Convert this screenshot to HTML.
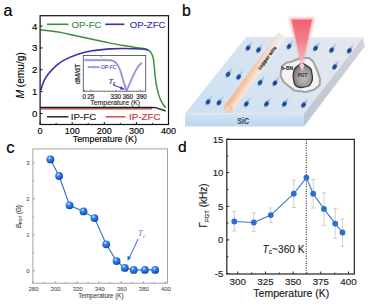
<!DOCTYPE html>
<html><head><meta charset="utf-8"><style>
html,body{margin:0;padding:0;background:#fff;}
svg{display:block;font-family:"Liberation Sans", sans-serif;}
</style></head><body>
<svg width="378" height="305" viewBox="0 0 378 305">
<text x="3.4" y="15.8" font-size="16" fill="#000" text-anchor="start" stroke="#000" stroke-width="0.20" >a</text>
<path d="M40.10,108.90 C50.08,108.90 81.35,108.90 100.00,108.90 C118.65,108.90 143.33,108.90 152.00,108.90" fill="none" stroke="#d83a3a" stroke-width="1.4"/>
<path d="M40.10,107.50 C50.08,107.50 81.68,107.50 100.00,107.50 C118.32,107.50 140.37,107.35 150.00,107.50 C159.63,107.65 155.20,107.82 157.80,108.40 C160.40,108.98 164.30,110.57 165.60,111.00" fill="none" stroke="#1a1a1a" stroke-width="1.4"/>
<path d="M40.50,29.80 C43.50,30.17 52.42,30.95 58.50,32.00 C64.58,33.05 69.25,34.43 77.00,36.10 C84.75,37.77 97.25,40.42 105.00,42.00 C112.75,43.58 117.33,44.55 123.50,45.60 C129.67,46.65 137.92,47.57 142.00,48.30 C146.08,49.03 146.42,49.13 148.00,50.00 C149.58,50.87 150.58,51.88 151.50,53.50 C152.42,55.12 152.88,55.80 153.50,59.70 C154.12,63.60 154.58,71.98 155.20,76.90 C155.82,81.82 156.37,85.52 157.20,89.20 C158.03,92.88 159.15,96.37 160.20,99.00 C161.25,101.63 162.57,103.53 163.50,105.00 C164.43,106.47 165.42,107.33 165.80,107.80" fill="none" stroke="#3a8f3a" stroke-width="1.5"/>
<path d="M40.80,90.20 C41.33,88.63 42.72,83.53 44.00,80.80 C45.28,78.07 46.50,76.30 48.50,73.80 C50.50,71.30 53.33,68.12 56.00,65.80 C58.67,63.48 60.83,61.83 64.50,59.90 C68.17,57.97 73.42,55.72 78.00,54.20 C82.58,52.68 86.67,51.68 92.00,50.80 C97.33,49.92 104.75,49.28 110.00,48.90 C115.25,48.52 118.17,48.48 123.50,48.50 C128.83,48.52 137.92,48.75 142.00,49.00 C146.08,49.25 147.00,49.83 148.00,50.00" fill="none" stroke="#3333b0" stroke-width="1.6"/>
<rect x="40.1" y="15.7" width="128.4" height="108.8" fill="none" stroke="#111" stroke-width="1.2"/>
<line x1="40.1" y1="113.50" x2="42.6" y2="113.50" stroke="#111" stroke-width="1"/>
<text x="37.3" y="116.9" font-size="9.6" fill="#000" text-anchor="end" stroke="#000" stroke-width="0.14" >0</text>
<line x1="40.1" y1="91.65" x2="42.6" y2="91.65" stroke="#111" stroke-width="1"/>
<text x="37.3" y="95.05000000000001" font-size="9.6" fill="#000" text-anchor="end" stroke="#000" stroke-width="0.14" >1</text>
<line x1="40.1" y1="69.80" x2="42.6" y2="69.80" stroke="#111" stroke-width="1"/>
<text x="37.3" y="73.2" font-size="9.6" fill="#000" text-anchor="end" stroke="#000" stroke-width="0.14" >2</text>
<line x1="40.1" y1="47.95" x2="42.6" y2="47.95" stroke="#111" stroke-width="1"/>
<text x="37.3" y="51.34999999999999" font-size="9.6" fill="#000" text-anchor="end" stroke="#000" stroke-width="0.14" >3</text>
<line x1="40.1" y1="26.10" x2="42.6" y2="26.10" stroke="#111" stroke-width="1"/>
<text x="37.3" y="29.499999999999993" font-size="9.6" fill="#000" text-anchor="end" stroke="#000" stroke-width="0.14" >4</text>
<line x1="40.10" y1="124.5" x2="40.10" y2="122.0" stroke="#111" stroke-width="1"/>
<text x="40.1" y="133.6" font-size="9.0" fill="#000" text-anchor="middle" stroke="#000" stroke-width="0.13" >0</text>
<line x1="56.15" y1="124.5" x2="56.15" y2="123.0" stroke="#111" stroke-width="1"/>
<line x1="72.20" y1="124.5" x2="72.20" y2="122.0" stroke="#111" stroke-width="1"/>
<text x="72.2" y="133.6" font-size="9.0" fill="#000" text-anchor="middle" stroke="#000" stroke-width="0.13" >100</text>
<line x1="88.25" y1="124.5" x2="88.25" y2="123.0" stroke="#111" stroke-width="1"/>
<line x1="104.30" y1="124.5" x2="104.30" y2="122.0" stroke="#111" stroke-width="1"/>
<text x="104.30000000000001" y="133.6" font-size="9.0" fill="#000" text-anchor="middle" stroke="#000" stroke-width="0.13" >200</text>
<line x1="120.35" y1="124.5" x2="120.35" y2="123.0" stroke="#111" stroke-width="1"/>
<line x1="136.40" y1="124.5" x2="136.40" y2="122.0" stroke="#111" stroke-width="1"/>
<text x="136.4" y="133.6" font-size="9.0" fill="#000" text-anchor="middle" stroke="#000" stroke-width="0.13" >300</text>
<line x1="152.45" y1="124.5" x2="152.45" y2="123.0" stroke="#111" stroke-width="1"/>
<line x1="168.50" y1="124.5" x2="168.50" y2="122.0" stroke="#111" stroke-width="1"/>
<text x="168.5" y="133.6" font-size="9.0" fill="#000" text-anchor="middle" stroke="#000" stroke-width="0.13" >400</text>
<text x="104.8" y="142.4" font-size="8.9" fill="#000" text-anchor="middle" stroke="#000" stroke-width="0.13" >Temperature (K)</text>
<text transform="translate(23.5,75.3) rotate(-90)" font-size="10.2" text-anchor="middle" fill="#000" stroke="#000" stroke-width="0.12"><tspan font-style="italic">M</tspan> (emu/g)</text>
<line x1="47" y1="24.3" x2="68.5" y2="24.3" stroke="#3a8f3a" stroke-width="1.6"/>
<text x="71.6" y="27.9" font-size="9.6" fill="#3a8f3a" text-anchor="start" stroke="#3a8f3a" stroke-width="0.14" >OP-FC</text>
<line x1="105.3" y1="24.3" x2="124.4" y2="24.3" stroke="#3333b0" stroke-width="1.6"/>
<text x="129.8" y="27.9" font-size="9.6" fill="#3333b0" text-anchor="start" stroke="#3333b0" stroke-width="0.14" >OP-ZFC</text>
<line x1="47" y1="116.8" x2="68.4" y2="116.8" stroke="#1a1a1a" stroke-width="1.4"/>
<text x="70.8" y="120.4" font-size="9.8" fill="#222" text-anchor="start" stroke="#222" stroke-width="0.15" >IP-FC</text>
<line x1="105.5" y1="116.8" x2="125.5" y2="116.8" stroke="#d83a3a" stroke-width="1.4"/>
<text x="129.0" y="120.4" font-size="9.8" fill="#cc3434" text-anchor="start" stroke="#cc3434" stroke-width="0.15" >IP-ZFC</text>
<rect x="83.3" y="55.5" width="62.39999999999999" height="35.7" fill="#fff" stroke="#555" stroke-width="0.9"/>
<path d="M84.50,60.10 C86.25,60.10 91.58,60.10 95.00,60.10 C98.42,60.10 102.33,60.07 105.00,60.10 C107.67,60.13 109.42,60.07 111.00,60.30 C112.58,60.53 113.42,60.80 114.50,61.50 C115.58,62.20 116.58,63.08 117.50,64.50 C118.42,65.92 119.25,68.08 120.00,70.00 C120.75,71.92 121.33,73.83 122.00,76.00 C122.67,78.17 123.25,80.67 124.00,83.00 C124.75,85.33 125.67,89.67 126.50,90.00 C127.33,90.33 128.08,86.92 129.00,85.00 C129.92,83.08 130.92,80.83 132.00,78.50 C133.08,76.17 134.42,73.08 135.50,71.00 C136.58,68.92 137.50,67.32 138.50,66.00 C139.50,64.68 141.00,63.58 141.50,63.10" fill="none" stroke="#7070c8" stroke-width="1.1"/>
<circle cx="84.50" cy="60.10" r="1.0" fill="none" stroke="#9a9ad8" stroke-width="0.5"/>
<circle cx="86.76" cy="60.10" r="1.0" fill="none" stroke="#9a9ad8" stroke-width="0.5"/>
<circle cx="89.01" cy="60.10" r="1.0" fill="none" stroke="#9a9ad8" stroke-width="0.5"/>
<circle cx="91.27" cy="60.10" r="1.0" fill="none" stroke="#9a9ad8" stroke-width="0.5"/>
<circle cx="93.53" cy="60.10" r="1.0" fill="none" stroke="#9a9ad8" stroke-width="0.5"/>
<circle cx="95.79" cy="60.10" r="1.0" fill="none" stroke="#9a9ad8" stroke-width="0.5"/>
<circle cx="98.04" cy="60.10" r="1.0" fill="none" stroke="#9a9ad8" stroke-width="0.5"/>
<circle cx="100.30" cy="60.10" r="1.0" fill="none" stroke="#9a9ad8" stroke-width="0.5"/>
<circle cx="102.56" cy="60.10" r="1.0" fill="none" stroke="#9a9ad8" stroke-width="0.5"/>
<circle cx="104.82" cy="60.10" r="1.0" fill="none" stroke="#9a9ad8" stroke-width="0.5"/>
<circle cx="107.07" cy="60.17" r="1.0" fill="none" stroke="#9a9ad8" stroke-width="0.5"/>
<circle cx="109.33" cy="60.24" r="1.0" fill="none" stroke="#9a9ad8" stroke-width="0.5"/>
<circle cx="111.55" cy="60.49" r="1.0" fill="none" stroke="#9a9ad8" stroke-width="0.5"/>
<circle cx="113.69" cy="61.22" r="1.0" fill="none" stroke="#9a9ad8" stroke-width="0.5"/>
<circle cx="115.49" cy="62.49" r="1.0" fill="none" stroke="#9a9ad8" stroke-width="0.5"/>
<circle cx="117.09" cy="64.09" r="1.0" fill="none" stroke="#9a9ad8" stroke-width="0.5"/>
<circle cx="118.19" cy="66.02" r="1.0" fill="none" stroke="#9a9ad8" stroke-width="0.5"/>
<circle cx="119.13" cy="68.08" r="1.0" fill="none" stroke="#9a9ad8" stroke-width="0.5"/>
<circle cx="120.05" cy="70.14" r="1.0" fill="none" stroke="#9a9ad8" stroke-width="0.5"/>
<circle cx="120.76" cy="72.28" r="1.0" fill="none" stroke="#9a9ad8" stroke-width="0.5"/>
<circle cx="121.47" cy="74.42" r="1.0" fill="none" stroke="#9a9ad8" stroke-width="0.5"/>
<circle cx="122.16" cy="76.57" r="1.0" fill="none" stroke="#9a9ad8" stroke-width="0.5"/>
<circle cx="122.78" cy="78.74" r="1.0" fill="none" stroke="#9a9ad8" stroke-width="0.5"/>
<circle cx="123.40" cy="80.91" r="1.0" fill="none" stroke="#9a9ad8" stroke-width="0.5"/>
<circle cx="124.03" cy="83.08" r="1.0" fill="none" stroke="#9a9ad8" stroke-width="0.5"/>
<circle cx="124.79" cy="85.21" r="1.0" fill="none" stroke="#9a9ad8" stroke-width="0.5"/>
<circle cx="125.55" cy="87.33" r="1.0" fill="none" stroke="#9a9ad8" stroke-width="0.5"/>
<circle cx="126.31" cy="89.46" r="1.0" fill="none" stroke="#9a9ad8" stroke-width="0.5"/>
<circle cx="127.25" cy="88.50" r="1.0" fill="none" stroke="#9a9ad8" stroke-width="0.5"/>
<circle cx="128.26" cy="86.48" r="1.0" fill="none" stroke="#9a9ad8" stroke-width="0.5"/>
<circle cx="129.25" cy="84.45" r="1.0" fill="none" stroke="#9a9ad8" stroke-width="0.5"/>
<circle cx="130.20" cy="82.40" r="1.0" fill="none" stroke="#9a9ad8" stroke-width="0.5"/>
<circle cx="131.15" cy="80.35" r="1.0" fill="none" stroke="#9a9ad8" stroke-width="0.5"/>
<circle cx="132.09" cy="78.30" r="1.0" fill="none" stroke="#9a9ad8" stroke-width="0.5"/>
<circle cx="133.05" cy="76.25" r="1.0" fill="none" stroke="#9a9ad8" stroke-width="0.5"/>
<circle cx="134.00" cy="74.21" r="1.0" fill="none" stroke="#9a9ad8" stroke-width="0.5"/>
<circle cx="134.96" cy="72.16" r="1.0" fill="none" stroke="#9a9ad8" stroke-width="0.5"/>
<circle cx="136.00" cy="70.16" r="1.0" fill="none" stroke="#9a9ad8" stroke-width="0.5"/>
<circle cx="137.16" cy="68.23" r="1.0" fill="none" stroke="#9a9ad8" stroke-width="0.5"/>
<circle cx="138.32" cy="66.29" r="1.0" fill="none" stroke="#9a9ad8" stroke-width="0.5"/>
<circle cx="139.88" cy="64.67" r="1.0" fill="none" stroke="#9a9ad8" stroke-width="0.5"/>
<circle cx="141.50" cy="63.10" r="1.0" fill="none" stroke="#9a9ad8" stroke-width="0.5"/>
<line x1="87.7" y1="67.1" x2="99.8" y2="67.1" stroke="#5a5ac8" stroke-width="1.1"/>
<circle cx="93.7" cy="67.1" r="1.1" fill="#fff" stroke="#5a5ac8" stroke-width="0.6"/>
<text x="101" y="69.1" font-size="5.6" fill="#4a4ab8" stroke="#4a4ab8" stroke-width="0.15" textLength="15.3" lengthAdjust="spacingAndGlyphs">OP-FC</text>
<text x="108.4" y="83.8" font-size="7.5" fill="#3a3aa8" stroke="#3a3aa8" stroke-width="0.2" font-style="italic">T<tspan font-size="4.5" dy="1.5">c</tspan></text>
<line x1="113.2" y1="85" x2="122.5" y2="88.5" stroke="#3a3aa8" stroke-width="1"/>
<path d="M125.4,89.6 L120.9,86.3 L120.1,89.4 Z" fill="#3a3aa8"/>
<text x="82.45" y="99.1" font-size="6.4" fill="#222" stroke="#222" stroke-width="0.18" textLength="3.50" lengthAdjust="spacingAndGlyphs">0</text>
<text x="87.30" y="99.1" font-size="6.4" fill="#222" stroke="#222" stroke-width="0.18" textLength="7.00" lengthAdjust="spacingAndGlyphs">25</text>
<text x="110.55" y="99.1" font-size="6.4" fill="#222" stroke="#222" stroke-width="0.18" textLength="10.50" lengthAdjust="spacingAndGlyphs">330</text>
<text x="122.55" y="99.1" font-size="6.4" fill="#222" stroke="#222" stroke-width="0.18" textLength="10.50" lengthAdjust="spacingAndGlyphs">360</text>
<text x="136.15" y="99.1" font-size="6.4" fill="#222" stroke="#222" stroke-width="0.18" textLength="10.50" lengthAdjust="spacingAndGlyphs">390</text>
<line x1="84.5" y1="91.2" x2="84.5" y2="89.7" stroke="#555" stroke-width="0.6"/>
<line x1="90.6" y1="91.2" x2="90.6" y2="89.7" stroke="#555" stroke-width="0.6"/>
<line x1="115.8" y1="91.2" x2="115.8" y2="89.7" stroke="#555" stroke-width="0.6"/>
<line x1="127.1" y1="91.2" x2="127.1" y2="89.7" stroke="#555" stroke-width="0.6"/>
<line x1="140.6" y1="91.2" x2="140.6" y2="89.7" stroke="#555" stroke-width="0.6"/>
<line x1="101" y1="55.5" x2="101" y2="57.0" stroke="#555" stroke-width="0.6"/>
<text x="115.2" y="105.2" font-size="6.9" fill="#222" text-anchor="middle" stroke="#222" stroke-width="0.10" >Temperature (K)</text>
<text transform="translate(79.9,73.8) rotate(-90)" font-size="7.2" text-anchor="middle" fill="#222" stroke="#222" stroke-width="0.2">dM/dT</text>
<text x="182.0" y="16.4" font-size="15.8" fill="#000" text-anchor="start" stroke="#000" stroke-width="0.20" >b</text>
<defs><linearGradient id="topface" gradientUnits="userSpaceOnUse" x1="340" y1="38" x2="205" y2="114"><stop offset="0" stop-color="#e4e8ee"/><stop offset="0.5" stop-color="#d8e4f0"/><stop offset="1" stop-color="#cde1f3"/></linearGradient><linearGradient id="front" gradientUnits="userSpaceOnUse" x1="0" y1="113.5" x2="0" y2="126.4"><stop offset="0" stop-color="#d6e6f4"/><stop offset="0.35" stop-color="#c8def2"/><stop offset="0.9" stop-color="#bed8f0"/><stop offset="1" stop-color="#c4d8ea"/></linearGradient><linearGradient id="side" gradientUnits="userSpaceOnUse" x1="300" y1="0" x2="364" y2="0"><stop offset="0" stop-color="#bcc5d2"/><stop offset="1" stop-color="#d0d3da"/></linearGradient><linearGradient id="wire" x1="0" y1="0" x2="1" y2="0"><stop offset="0" stop-color="#f0a878"/><stop offset="0.4" stop-color="#f6c4a2"/><stop offset="1" stop-color="#fce8da"/></linearGradient><linearGradient id="wirefade" x1="0" y1="1" x2="0" y2="0"><stop offset="0" stop-color="#fff" stop-opacity="0"/><stop offset="0.35" stop-color="#f6f4f4" stop-opacity="0.2"/><stop offset="1" stop-color="#eef0f4" stop-opacity="0.85"/></linearGradient><linearGradient id="beam" gradientUnits="userSpaceOnUse" x1="0" y1="19" x2="0" y2="67"><stop offset="0" stop-color="#f2606e"/><stop offset="0.45" stop-color="#f37e8a"/><stop offset="0.8" stop-color="#f5aab3"/><stop offset="1" stop-color="#f8dadd"/></linearGradient><radialGradient id="pgt" cx="0.55" cy="0.6" r="0.62"><stop offset="0" stop-color="#c2bebe"/><stop offset="0.55" stop-color="#a09c9c"/><stop offset="1" stop-color="#646262"/></radialGradient><radialGradient id="ball" cx="0.38" cy="0.32" r="0.68"><stop offset="0" stop-color="#e4eeff"/><stop offset="0.3" stop-color="#3f88f0"/><stop offset="0.8" stop-color="#1a5cc8"/><stop offset="1" stop-color="#1446a0"/></radialGradient><filter id="blur1" x="-50%" y="-50%" width="200%" height="200%"><feGaussianBlur stdDeviation="1.3"/></filter><filter id="blur05" x="-50%" y="-50%" width="200%" height="200%"><feGaussianBlur stdDeviation="0.6"/></filter><filter id="blur03" x="-50%" y="-50%" width="200%" height="200%"><feGaussianBlur stdDeviation="0.35"/></filter></defs>
<g filter="url(#blur03)">
<polygon points="246,36.9 363,37.4 304,113.8 185,113.5" fill="url(#topface)"/>
<polygon points="185,113.5 304,113.8 304,126.4 185,126.4" fill="url(#front)"/>
<polygon points="363,37.4 364.8,46.5 304,126.4 304,113.8" fill="url(#side)"/>
</g>
<g transform="translate(248,48) rotate(33)"><g filter="url(#blur05)"><ellipse cx="0" cy="0" rx="3.0" ry="3.6" fill="#eef4fb" opacity="0.6"/><polygon points="-1.7,-1.5 1.7,-1.5 0,-8.2" fill="#9ec0ea"/><polygon points="-1.2,1.5 1.2,1.5 0,5.2" fill="#a8c8ee"/></g><ellipse cx="0" cy="0" rx="2.1" ry="2.8" fill="#1c4a92" filter="url(#blur03)"/></g>
<g transform="translate(258.5,50) rotate(33)"><g filter="url(#blur05)"><ellipse cx="0" cy="0" rx="3.0" ry="3.6" fill="#eef4fb" opacity="0.6"/><polygon points="-1.7,-1.5 1.7,-1.5 0,-8.2" fill="#9ec0ea"/><polygon points="-1.2,1.5 1.2,1.5 0,5.2" fill="#a8c8ee"/></g><ellipse cx="0" cy="0" rx="2.1" ry="2.8" fill="#1c4a92" filter="url(#blur03)"/></g>
<g transform="translate(289,46.5) rotate(33)"><g filter="url(#blur05)"><ellipse cx="0" cy="0" rx="3.0" ry="3.6" fill="#eef4fb" opacity="0.6"/><polygon points="-1.7,-1.5 1.7,-1.5 0,-8.2" fill="#9ec0ea"/><polygon points="-1.2,1.5 1.2,1.5 0,5.2" fill="#a8c8ee"/></g><ellipse cx="0" cy="0" rx="2.1" ry="2.8" fill="#1c4a92" filter="url(#blur03)"/></g>
<g transform="translate(315.5,48.3) rotate(33)"><g filter="url(#blur05)"><ellipse cx="0" cy="0" rx="3.0" ry="3.6" fill="#eef4fb" opacity="0.6"/><polygon points="-1.7,-1.5 1.7,-1.5 0,-8.2" fill="#9ec0ea"/><polygon points="-1.2,1.5 1.2,1.5 0,5.2" fill="#a8c8ee"/></g><ellipse cx="0" cy="0" rx="2.1" ry="2.8" fill="#1c4a92" filter="url(#blur03)"/></g>
<g transform="translate(331.6,50.1) rotate(33)"><g filter="url(#blur05)"><ellipse cx="0" cy="0" rx="3.0" ry="3.6" fill="#eef4fb" opacity="0.6"/><polygon points="-1.7,-1.5 1.7,-1.5 0,-8.2" fill="#9ec0ea"/><polygon points="-1.2,1.5 1.2,1.5 0,5.2" fill="#a8c8ee"/></g><ellipse cx="0" cy="0" rx="2.1" ry="2.8" fill="#1c4a92" filter="url(#blur03)"/></g>
<g transform="translate(349.3,50.7) rotate(33)"><g filter="url(#blur05)"><ellipse cx="0" cy="0" rx="3.0" ry="3.6" fill="#eef4fb" opacity="0.6"/><polygon points="-1.7,-1.5 1.7,-1.5 0,-8.2" fill="#9ec0ea"/><polygon points="-1.2,1.5 1.2,1.5 0,5.2" fill="#a8c8ee"/></g><ellipse cx="0" cy="0" rx="2.1" ry="2.8" fill="#1c4a92" filter="url(#blur03)"/></g>
<g transform="translate(228,74.4) rotate(33)"><g filter="url(#blur05)"><ellipse cx="0" cy="0" rx="3.0" ry="3.6" fill="#eef4fb" opacity="0.6"/><polygon points="-1.7,-1.5 1.7,-1.5 0,-8.2" fill="#9ec0ea"/><polygon points="-1.2,1.5 1.2,1.5 0,5.2" fill="#a8c8ee"/></g><ellipse cx="0" cy="0" rx="2.1" ry="2.8" fill="#1c4a92" filter="url(#blur03)"/></g>
<g transform="translate(238.6,77) rotate(33)"><g filter="url(#blur05)"><ellipse cx="0" cy="0" rx="3.0" ry="3.6" fill="#eef4fb" opacity="0.6"/><polygon points="-1.7,-1.5 1.7,-1.5 0,-8.2" fill="#9ec0ea"/><polygon points="-1.2,1.5 1.2,1.5 0,5.2" fill="#a8c8ee"/></g><ellipse cx="0" cy="0" rx="2.1" ry="2.8" fill="#1c4a92" filter="url(#blur03)"/></g>
<g transform="translate(260.1,82.7) rotate(33)"><g filter="url(#blur05)"><ellipse cx="0" cy="0" rx="3.0" ry="3.6" fill="#eef4fb" opacity="0.6"/><polygon points="-1.7,-1.5 1.7,-1.5 0,-8.2" fill="#9ec0ea"/><polygon points="-1.2,1.5 1.2,1.5 0,5.2" fill="#a8c8ee"/></g><ellipse cx="0" cy="0" rx="2.1" ry="2.8" fill="#1c4a92" filter="url(#blur03)"/></g>
<g transform="translate(274.9,83.1) rotate(33)"><g filter="url(#blur05)"><ellipse cx="0" cy="0" rx="3.0" ry="3.6" fill="#eef4fb" opacity="0.6"/><polygon points="-1.7,-1.5 1.7,-1.5 0,-8.2" fill="#9ec0ea"/><polygon points="-1.2,1.5 1.2,1.5 0,5.2" fill="#a8c8ee"/></g><ellipse cx="0" cy="0" rx="2.1" ry="2.8" fill="#1c4a92" filter="url(#blur03)"/></g>
<g transform="translate(334.6,66.9) rotate(33)"><g filter="url(#blur05)"><ellipse cx="0" cy="0" rx="3.0" ry="3.6" fill="#eef4fb" opacity="0.6"/><polygon points="-1.7,-1.5 1.7,-1.5 0,-8.2" fill="#9ec0ea"/><polygon points="-1.2,1.5 1.2,1.5 0,5.2" fill="#a8c8ee"/></g><ellipse cx="0" cy="0" rx="2.1" ry="2.8" fill="#1c4a92" filter="url(#blur03)"/></g>
<g transform="translate(208,102) rotate(33)"><g filter="url(#blur05)"><ellipse cx="0" cy="0" rx="3.0" ry="3.6" fill="#eef4fb" opacity="0.6"/><polygon points="-1.7,-1.5 1.7,-1.5 0,-8.2" fill="#9ec0ea"/><polygon points="-1.2,1.5 1.2,1.5 0,5.2" fill="#a8c8ee"/></g><ellipse cx="0" cy="0" rx="2.1" ry="2.8" fill="#1c4a92" filter="url(#blur03)"/></g>
<g transform="translate(219,102.7) rotate(33)"><g filter="url(#blur05)"><ellipse cx="0" cy="0" rx="3.0" ry="3.6" fill="#eef4fb" opacity="0.6"/><polygon points="-1.7,-1.5 1.7,-1.5 0,-8.2" fill="#9ec0ea"/><polygon points="-1.2,1.5 1.2,1.5 0,5.2" fill="#a8c8ee"/></g><ellipse cx="0" cy="0" rx="2.1" ry="2.8" fill="#1c4a92" filter="url(#blur03)"/></g>
<g transform="translate(246.3,104) rotate(33)"><g filter="url(#blur05)"><ellipse cx="0" cy="0" rx="3.0" ry="3.6" fill="#eef4fb" opacity="0.6"/><polygon points="-1.7,-1.5 1.7,-1.5 0,-8.2" fill="#9ec0ea"/><polygon points="-1.2,1.5 1.2,1.5 0,5.2" fill="#a8c8ee"/></g><ellipse cx="0" cy="0" rx="2.1" ry="2.8" fill="#1c4a92" filter="url(#blur03)"/></g>
<g transform="translate(266.5,104) rotate(33)"><g filter="url(#blur05)"><ellipse cx="0" cy="0" rx="3.0" ry="3.6" fill="#eef4fb" opacity="0.6"/><polygon points="-1.7,-1.5 1.7,-1.5 0,-8.2" fill="#9ec0ea"/><polygon points="-1.2,1.5 1.2,1.5 0,5.2" fill="#a8c8ee"/></g><ellipse cx="0" cy="0" rx="2.1" ry="2.8" fill="#1c4a92" filter="url(#blur03)"/></g>
<g transform="translate(284.4,104) rotate(33)"><g filter="url(#blur05)"><ellipse cx="0" cy="0" rx="3.0" ry="3.6" fill="#eef4fb" opacity="0.6"/><polygon points="-1.7,-1.5 1.7,-1.5 0,-8.2" fill="#9ec0ea"/><polygon points="-1.2,1.5 1.2,1.5 0,5.2" fill="#a8c8ee"/></g><ellipse cx="0" cy="0" rx="2.1" ry="2.8" fill="#1c4a92" filter="url(#blur03)"/></g>
<g transform="translate(303.5,105) rotate(33)"><g filter="url(#blur05)"><ellipse cx="0" cy="0" rx="3.0" ry="3.6" fill="#eef4fb" opacity="0.6"/><polygon points="-1.7,-1.5 1.7,-1.5 0,-8.2" fill="#9ec0ea"/><polygon points="-1.2,1.5 1.2,1.5 0,5.2" fill="#a8c8ee"/></g><ellipse cx="0" cy="0" rx="2.1" ry="2.8" fill="#1c4a92" filter="url(#blur03)"/></g>
<g transform="translate(228.3,108.6) rotate(36.4)" filter="url(#blur03)"><rect x="-4.6" y="-91" width="9.2" height="91" fill="url(#wire)"/><rect x="-4.6" y="-91" width="9.2" height="91" fill="url(#wirefade)"/><ellipse cx="0" cy="0" rx="4.6" ry="3.3" fill="#f3b58c"/><ellipse cx="0.3" cy="0.3" rx="3.3" ry="2.4" fill="#f9d2b8"/></g>
<text transform="translate(268.6,59.0) rotate(-53.6)" font-size="5.2" font-weight="bold" fill="#222" stroke="#222" stroke-width="0.15" text-anchor="middle" textLength="28" lengthAdjust="spacingAndGlyphs">copper wire</text>
<path d="M280.7,73 L282.3,66 L286.4,62.8 L291.3,61.8 L298.7,58.8 L305,58 L309.3,58.0 L313.4,61.8 L315.5,66.5 L317.5,71.3 L320,78.7 L319.6,85.2 L314.3,89.6 L306,92.0 L300,91.2 L294.6,90.6 L288,85.6 L283.9,82.2 L280.7,76.2 Z" fill="#f3f3f3" stroke="#a2a2a2" stroke-width="2.0" stroke-linejoin="round" filter="url(#blur05)"/>
<path d="M280.7,73 L282.3,66 L286.4,62.8 L291.3,61.8 L298.7,58.8 L305,58 L309.3,58.0 L313.4,61.8 L315.5,66.5 L317.5,71.3 L320,78.7 L319.6,85.2 L314.3,89.6 L306,92.0 L300,91.2 L294.6,90.6 L288,85.6 L283.9,82.2 L280.7,76.2 Z" fill="#f6f6f6" stroke="none" transform="translate(0.4,0.2)" opacity="0.0"/>
<path d="M302,62.8 L309.6,67.6 Q311,68.6 311.4,70.2 L312.4,76.5 Q312.8,79.5 311.6,82 L310.2,84.5 Q309.2,86 307.2,86.5 L302.5,87.4 Q299.5,87.8 297.2,86.6 Q295,85.5 294.2,83 L293.3,78.5 Q293,75.5 293.4,73 L294.2,69.8 Q294.6,68.3 296,67.2 Z" fill="url(#pgt)" stroke="#383636" stroke-width="1.25" stroke-linejoin="round"/>
<ellipse cx="302.2" cy="66.8" rx="1.4" ry="3.4" fill="#f6e0e3" opacity="0.8" filter="url(#blur05)"/>
<text x="302.6" y="77.0" font-size="4.6" fill="#333" text-anchor="middle" stroke="#333" stroke-width="0.07" font-weight="bold">PGT</text>
<text x="287.2" y="70.0" font-size="5.0" fill="#222" text-anchor="middle" stroke="#222" stroke-width="0.07" font-weight="bold">h-BN</text>
<polygon points="288.5,17.5 315,17.5 301.8,68" fill="#f7a0aa" opacity="0.7" filter="url(#blur1)"/>
<polygon points="291.5,19.5 312.1,19.5 301.8,66.6" fill="url(#beam)" filter="url(#blur03)"/>
<ellipse cx="301.8" cy="65.5" rx="2.5" ry="2" fill="#f9d0d6" opacity="0.8" filter="url(#blur05)"/>
<text x="237.3" y="123.8" font-size="9.5" font-weight="bold" fill="#3a3a44" textLength="12" lengthAdjust="spacingAndGlyphs">SiC</text>
<text x="6.2" y="153.4" font-size="16.5" fill="#000" text-anchor="start" stroke="#000" stroke-width="0.20" >c</text>
<rect x="32.9" y="148.9" width="134.6" height="134.29999999999998" fill="none" stroke="#a4a4a4" stroke-width="1.0"/>
<line x1="32.9" y1="270.80" x2="34.9" y2="270.80" stroke="#888" stroke-width="0.8"/>
<text x="29.6" y="272.90000000000003" font-size="6.0" fill="#555" text-anchor="end" stroke="#555" stroke-width="0.09" >0</text>
<line x1="32.9" y1="234.80" x2="34.9" y2="234.80" stroke="#888" stroke-width="0.8"/>
<text x="29.6" y="236.9" font-size="6.0" fill="#555" text-anchor="end" stroke="#555" stroke-width="0.09" >1</text>
<line x1="32.9" y1="198.80" x2="34.9" y2="198.80" stroke="#888" stroke-width="0.8"/>
<text x="29.6" y="200.9" font-size="6.0" fill="#555" text-anchor="end" stroke="#555" stroke-width="0.09" >2</text>
<line x1="32.9" y1="162.80" x2="34.9" y2="162.80" stroke="#888" stroke-width="0.8"/>
<text x="29.6" y="164.9" font-size="6.0" fill="#555" text-anchor="end" stroke="#555" stroke-width="0.09" >3</text>
<line x1="32.9" y1="252.80" x2="34.1" y2="252.80" stroke="#888" stroke-width="0.8"/>
<line x1="32.9" y1="216.80" x2="34.1" y2="216.80" stroke="#888" stroke-width="0.8"/>
<line x1="32.9" y1="180.80" x2="34.1" y2="180.80" stroke="#888" stroke-width="0.8"/>
<line x1="32.90" y1="283.2" x2="32.90" y2="281.2" stroke="#888" stroke-width="0.8"/>
<text x="33.5" y="291.0" font-size="6.0" fill="#555" text-anchor="middle" stroke="#555" stroke-width="0.09" >280</text>
<line x1="43.93" y1="283.2" x2="43.93" y2="282.0" stroke="#888" stroke-width="0.8"/>
<line x1="54.97" y1="283.2" x2="54.97" y2="281.2" stroke="#888" stroke-width="0.8"/>
<text x="55.56666666666667" y="291.0" font-size="6.0" fill="#555" text-anchor="middle" stroke="#555" stroke-width="0.09" >300</text>
<line x1="66.00" y1="283.2" x2="66.00" y2="282.0" stroke="#888" stroke-width="0.8"/>
<line x1="77.03" y1="283.2" x2="77.03" y2="281.2" stroke="#888" stroke-width="0.8"/>
<text x="77.63333333333333" y="291.0" font-size="6.0" fill="#555" text-anchor="middle" stroke="#555" stroke-width="0.09" >320</text>
<line x1="88.07" y1="283.2" x2="88.07" y2="282.0" stroke="#888" stroke-width="0.8"/>
<line x1="99.10" y1="283.2" x2="99.10" y2="281.2" stroke="#888" stroke-width="0.8"/>
<text x="99.69999999999999" y="291.0" font-size="6.0" fill="#555" text-anchor="middle" stroke="#555" stroke-width="0.09" >340</text>
<line x1="110.13" y1="283.2" x2="110.13" y2="282.0" stroke="#888" stroke-width="0.8"/>
<line x1="121.17" y1="283.2" x2="121.17" y2="281.2" stroke="#888" stroke-width="0.8"/>
<text x="121.76666666666665" y="291.0" font-size="6.0" fill="#555" text-anchor="middle" stroke="#555" stroke-width="0.09" >360</text>
<line x1="132.20" y1="283.2" x2="132.20" y2="282.0" stroke="#888" stroke-width="0.8"/>
<line x1="143.23" y1="283.2" x2="143.23" y2="281.2" stroke="#888" stroke-width="0.8"/>
<text x="143.83333333333331" y="291.0" font-size="6.0" fill="#555" text-anchor="middle" stroke="#555" stroke-width="0.09" >380</text>
<line x1="154.27" y1="283.2" x2="154.27" y2="282.0" stroke="#888" stroke-width="0.8"/>
<line x1="165.30" y1="283.2" x2="165.30" y2="281.2" stroke="#888" stroke-width="0.8"/>
<text x="165.9" y="291.0" font-size="6.0" fill="#555" text-anchor="middle" stroke="#555" stroke-width="0.09" >400</text>
<text x="100.9" y="297.8" font-size="6.3" fill="#444" text-anchor="middle" stroke="#444" stroke-width="0.09" >Temperature (K)</text>
<text transform="translate(20.8,216.7) rotate(-90)" font-size="6.3" text-anchor="middle" fill="#555" stroke="#555" stroke-width="0.18"><tspan font-style="italic">B</tspan><tspan font-size="4" dy="1.2">PGT</tspan><tspan dy="-1.2"> (G)</tspan></text>
<path d="M50.40,159.40 L59.10,176.00 L69.60,205.30 L83.50,211.40 L94.50,218.10 L106.20,244.30 L116.60,261.10 L124.80,267.90 L133.70,269.90 L144.90,269.90 L155.20,269.90" fill="none" stroke="#2a6fd0" stroke-width="1.1"/>
<circle cx="50.4" cy="159.4" r="3.9" fill="url(#ball)"/>
<circle cx="59.1" cy="176" r="3.9" fill="url(#ball)"/>
<circle cx="69.6" cy="205.3" r="3.9" fill="url(#ball)"/>
<circle cx="83.5" cy="211.4" r="3.9" fill="url(#ball)"/>
<circle cx="94.5" cy="218.1" r="3.9" fill="url(#ball)"/>
<circle cx="106.2" cy="244.3" r="3.9" fill="url(#ball)"/>
<circle cx="116.6" cy="261.1" r="3.9" fill="url(#ball)"/>
<circle cx="124.8" cy="267.9" r="3.9" fill="url(#ball)"/>
<circle cx="133.7" cy="269.9" r="3.9" fill="url(#ball)"/>
<circle cx="144.9" cy="269.9" r="3.9" fill="url(#ball)"/>
<circle cx="155.2" cy="269.9" r="3.9" fill="url(#ball)"/>
<text x="137.8" y="236.3" font-size="9.2" fill="#6a8ccc" font-family="Liberation Serif" font-style="italic">T<tspan font-size="5.5" dy="1.5">c</tspan></text>
<line x1="138.1" y1="239" x2="129.5" y2="257.5" stroke="#2a6fd0" stroke-width="1"/>
<path d="M127.6,261 L127.5,255.8 L131.2,257.5 Z" fill="#2a6fd0"/>
<text x="178.0" y="151.8" font-size="15.5" fill="#000" text-anchor="start" stroke="#000" stroke-width="0.20" >d</text>
<rect x="226.8" y="139.4" width="127.5" height="134.6" fill="none" stroke="#222" stroke-width="1.2"/>
<line x1="226.8" y1="273.50" x2="229.3" y2="273.50" stroke="#222" stroke-width="1"/>
<text x="223.3" y="276.9" font-size="9.6" fill="#222" text-anchor="end" stroke="#222" stroke-width="0.14" >-5</text>
<line x1="226.8" y1="239.90" x2="229.3" y2="239.90" stroke="#222" stroke-width="1"/>
<text x="223.3" y="243.3" font-size="9.6" fill="#222" text-anchor="end" stroke="#222" stroke-width="0.14" >0</text>
<line x1="226.8" y1="206.30" x2="229.3" y2="206.30" stroke="#222" stroke-width="1"/>
<text x="223.3" y="209.70000000000002" font-size="9.6" fill="#222" text-anchor="end" stroke="#222" stroke-width="0.14" >5</text>
<line x1="226.8" y1="172.70" x2="229.3" y2="172.70" stroke="#222" stroke-width="1"/>
<text x="223.3" y="176.1" font-size="9.6" fill="#222" text-anchor="end" stroke="#222" stroke-width="0.14" >10</text>
<line x1="226.8" y1="139.10" x2="229.3" y2="139.10" stroke="#222" stroke-width="1"/>
<text x="223.3" y="142.50000000000003" font-size="9.6" fill="#222" text-anchor="end" stroke="#222" stroke-width="0.14" >15</text>
<line x1="226.8" y1="256.70" x2="228.3" y2="256.70" stroke="#222" stroke-width="1"/>
<line x1="226.8" y1="223.10" x2="228.3" y2="223.10" stroke="#222" stroke-width="1"/>
<line x1="226.8" y1="189.50" x2="228.3" y2="189.50" stroke="#222" stroke-width="1"/>
<line x1="226.8" y1="155.90" x2="228.3" y2="155.90" stroke="#222" stroke-width="1"/>
<line x1="237.80" y1="274.0" x2="237.80" y2="271.5" stroke="#222" stroke-width="1"/>
<text x="237.8" y="284.5" font-size="9.8" fill="#222" text-anchor="middle" stroke="#222" stroke-width="0.15" >300</text>
<line x1="265.48" y1="274.0" x2="265.48" y2="271.5" stroke="#222" stroke-width="1"/>
<text x="265.475" y="284.5" font-size="9.8" fill="#222" text-anchor="middle" stroke="#222" stroke-width="0.15" >325</text>
<line x1="293.15" y1="274.0" x2="293.15" y2="271.5" stroke="#222" stroke-width="1"/>
<text x="293.15" y="284.5" font-size="9.8" fill="#222" text-anchor="middle" stroke="#222" stroke-width="0.15" >350</text>
<line x1="320.83" y1="274.0" x2="320.83" y2="271.5" stroke="#222" stroke-width="1"/>
<text x="320.82500000000005" y="284.5" font-size="9.8" fill="#222" text-anchor="middle" stroke="#222" stroke-width="0.15" >375</text>
<line x1="348.50" y1="274.0" x2="348.50" y2="271.5" stroke="#222" stroke-width="1"/>
<text x="348.5" y="284.5" font-size="9.8" fill="#222" text-anchor="middle" stroke="#222" stroke-width="0.15" >400</text>
<line x1="251.64" y1="274.0" x2="251.64" y2="272.5" stroke="#222" stroke-width="1"/>
<line x1="279.31" y1="274.0" x2="279.31" y2="272.5" stroke="#222" stroke-width="1"/>
<line x1="306.99" y1="274.0" x2="306.99" y2="272.5" stroke="#222" stroke-width="1"/>
<line x1="334.66" y1="274.0" x2="334.66" y2="272.5" stroke="#222" stroke-width="1"/>
<text x="291.3" y="296.5" font-size="10.5" fill="#222" text-anchor="middle" stroke="#222" stroke-width="0.16" >Temperature (K)</text>
<text transform="translate(206.5,205.5) rotate(-90)" font-size="10" text-anchor="middle" fill="#222" stroke="#222" stroke-width="0.15">Γ<tspan font-size="6" dy="2">FGT</tspan><tspan dy="-2"> (kHz)</tspan></text>
<line x1="306.3" y1="140.4" x2="306.3" y2="274.0" stroke="#3a3a3a" stroke-width="1.15" stroke-dasharray="1.1,1.3"/>
<line x1="234.3" y1="211.5" x2="234.3" y2="231" stroke="#c8c8c8" stroke-width="0.9"/>
<line x1="232.20000000000002" y1="211.5" x2="236.4" y2="211.5" stroke="#c8c8c8" stroke-width="0.9"/>
<line x1="232.20000000000002" y1="231" x2="236.4" y2="231" stroke="#c8c8c8" stroke-width="0.9"/>
<line x1="253.8" y1="213" x2="253.8" y2="231.4" stroke="#c8c8c8" stroke-width="0.9"/>
<line x1="251.70000000000002" y1="213" x2="255.9" y2="213" stroke="#c8c8c8" stroke-width="0.9"/>
<line x1="251.70000000000002" y1="231.4" x2="255.9" y2="231.4" stroke="#c8c8c8" stroke-width="0.9"/>
<line x1="270.8" y1="208.1" x2="270.8" y2="222.5" stroke="#c8c8c8" stroke-width="0.9"/>
<line x1="268.7" y1="208.1" x2="272.90000000000003" y2="208.1" stroke="#c8c8c8" stroke-width="0.9"/>
<line x1="268.7" y1="222.5" x2="272.90000000000003" y2="222.5" stroke="#c8c8c8" stroke-width="0.9"/>
<line x1="293.8" y1="180.2" x2="293.8" y2="207.5" stroke="#c8c8c8" stroke-width="0.9"/>
<line x1="291.7" y1="180.2" x2="295.90000000000003" y2="180.2" stroke="#c8c8c8" stroke-width="0.9"/>
<line x1="291.7" y1="207.5" x2="295.90000000000003" y2="207.5" stroke="#c8c8c8" stroke-width="0.9"/>
<line x1="313.2" y1="179.5" x2="313.2" y2="208.1" stroke="#c8c8c8" stroke-width="0.9"/>
<line x1="311.09999999999997" y1="179.5" x2="315.3" y2="179.5" stroke="#c8c8c8" stroke-width="0.9"/>
<line x1="311.09999999999997" y1="208.1" x2="315.3" y2="208.1" stroke="#c8c8c8" stroke-width="0.9"/>
<line x1="324" y1="192.8" x2="324" y2="225.3" stroke="#c8c8c8" stroke-width="0.9"/>
<line x1="321.9" y1="192.8" x2="326.1" y2="192.8" stroke="#c8c8c8" stroke-width="0.9"/>
<line x1="321.9" y1="225.3" x2="326.1" y2="225.3" stroke="#c8c8c8" stroke-width="0.9"/>
<line x1="335.2" y1="208.3" x2="335.2" y2="238.4" stroke="#c8c8c8" stroke-width="0.9"/>
<line x1="333.09999999999997" y1="208.3" x2="337.3" y2="208.3" stroke="#c8c8c8" stroke-width="0.9"/>
<line x1="333.09999999999997" y1="238.4" x2="337.3" y2="238.4" stroke="#c8c8c8" stroke-width="0.9"/>
<line x1="342.5" y1="219.1" x2="342.5" y2="246.3" stroke="#c8c8c8" stroke-width="0.9"/>
<line x1="340.4" y1="219.1" x2="344.6" y2="219.1" stroke="#c8c8c8" stroke-width="0.9"/>
<line x1="340.4" y1="246.3" x2="344.6" y2="246.3" stroke="#c8c8c8" stroke-width="0.9"/>
<path d="M234.30,221.50 L253.80,222.50 L270.80,215.10 L293.80,193.70 L306.40,177.70 L313.20,193.70 L324.00,208.90 L335.20,223.60 L342.50,232.50" fill="none" stroke="#3a78c0" stroke-width="1.1"/>
<circle cx="234.3" cy="221.5" r="2.9" fill="#2a6fcc"/>
<circle cx="253.8" cy="222.5" r="2.9" fill="#2a6fcc"/>
<circle cx="270.8" cy="215.1" r="2.9" fill="#2a6fcc"/>
<circle cx="293.8" cy="193.7" r="2.9" fill="#2a6fcc"/>
<circle cx="306.4" cy="177.7" r="2.9" fill="#2a6fcc"/>
<circle cx="313.2" cy="193.7" r="2.9" fill="#2a6fcc"/>
<circle cx="324" cy="208.9" r="2.9" fill="#2a6fcc"/>
<circle cx="335.2" cy="223.6" r="2.9" fill="#2a6fcc"/>
<circle cx="342.5" cy="232.5" r="2.9" fill="#2a6fcc"/>
<text x="262.6" y="252.6" font-size="10.2" fill="#222" stroke="#222" stroke-width="0.1"><tspan font-style="italic">T</tspan><tspan font-size="6.5" dy="1.8">c</tspan><tspan dy="-1.8">~360 K</tspan></text>
</svg></body></html>
